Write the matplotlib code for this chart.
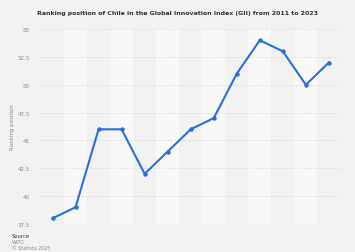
import matplotlib
matplotlib.use("Agg")
import matplotlib.pyplot as plt

years = [2011, 2012, 2013, 2014, 2015, 2016, 2017, 2018, 2019, 2020, 2021, 2022, 2023]
ranking = [38, 39, 46, 46, 42, 44, 46, 47, 51, 54, 53, 50, 52]
yticks = [37.5, 40, 42.5, 45, 47.5, 50, 52.5, 55]

bg = "#f2f2f2"
fig = plt.figure(figsize=(3.55, 2.53), dpi=100, facecolor=bg)
ax = fig.add_axes([0.1155, 0.111, 0.8435, 0.77])
ax.set_facecolor(bg)

x = list(range(len(years)))
# alternating column bands
for i in x:
    if i % 2 == 1:
        ax.axvspan(i - 0.5, i + 0.5, color="#f8f8f8", zorder=0, lw=0)

for t in yticks:
    ax.axhline(t, color="#dcdcdc", lw=0.5, ls=(0, (5, 2)), zorder=1)

ax.plot(x, ranking, color="#2a6fd6", lw=1.5, marker="o", ms=2.2, zorder=3)

ax.set_xlim(-0.5, 12.5)
ax.set_ylim(37.5, 55)
ax.set_yticks(yticks)
ax.set_yticklabels([("%g" % t) for t in yticks], fontsize=4, color="#888888")
ax.set_xticks([])
ax.tick_params(axis="y", length=0, pad=8)
for s in ax.spines.values():
    s.set_visible(False)

ax.set_ylabel("Ranking position", fontsize=4, color="#888888")
ax.yaxis.set_label_coords(-0.088, 0.5)

fig.text(0.5, 0.948, "Ranking position of Chile in the Global Innovation Index (GII) from 2011 to 2023",
         ha="center", va="center", fontsize=4.5, fontweight="bold", color="#333333")

fig.text(0.033, 0.067, "Source", fontsize=3.8, color="#333333", va="center")
fig.text(0.033, 0.042, "WIPO", fontsize=3.4, color="#888888", va="center")
fig.text(0.033, 0.016, "\u00a9 Statista 2025", fontsize=3.4, color="#888888", va="center")

fig.savefig("out.png", dpi=100, facecolor=bg)
